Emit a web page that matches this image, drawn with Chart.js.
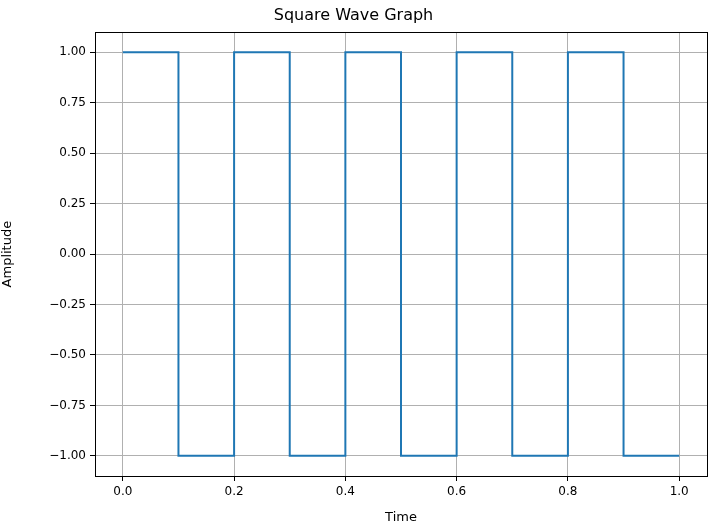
<!DOCTYPE html>
<html><head><meta charset="utf-8">
<script src="https://cdn.jsdelivr.net/npm/chart.js@4/dist/chart.umd.min.js"></script>
<style>html,body{margin:0;padding:0;background:#fff}</style>
</head><body>
<canvas id="c" width="715" height="525"></canvas>
<script>
const times = [0,0.1,0.2,0.3,0.4,0.5,0.6,0.7,0.8,0.9,1.0];
const amplitude = [1,1,-1,1,-1,1,-1,1,-1,1,-1];
const xTicks = [0,0.2,0.4,0.6,0.8,1.0];
const yTicks = [-1,-0.75,-0.5,-0.25,0,0.25,0.5,0.75,1];
const FONT = "'DejaVu Sans', sans-serif";

const frame = {
  id:'frame',
  afterDraw(ch){
    const a = ch.chartArea, c = ch.ctx;
    c.save(); c.strokeStyle='#000'; c.lineWidth=1;
    c.strokeRect(Math.round(a.left)+0.5, Math.round(a.top)+0.5, Math.round(a.right-a.left), Math.round(a.bottom-a.top));
    c.restore();
  }
};

new Chart(document.getElementById('c'), {
  type:'line',
  data:{datasets:[{
    data: times.map((t,i)=>({x:t,y:amplitude[i]})),
    stepped:'after', borderColor:'#1f77b4', borderWidth:2, pointRadius:0, fill:false
  }]},
  options:{
    responsive:false, animation:false,
    layout:{padding:{left:0,right:8,top:0,bottom:0}},
    plugins:{
      legend:{display:false}, tooltip:{enabled:false},
      title:{display:true,text:'Square Wave Graph',color:'#000',
        font:{family:FONT,size:16,weight:'normal'},padding:{top:6,bottom:7}}
    },
    scales:{
      x:{type:'linear',min:-0.05,max:1.05,
        afterBuildTicks(s){s.ticks=xTicks.map(v=>({value:v}));},
        afterFit(s){s.height=49;},
        ticks:{color:'#000',font:{family:FONT,size:12},maxRotation:0,padding:4,
          callback:v=>v.toFixed(1)},
        grid:{color:'#b0b0b0',tickLength:5,tickColor:'#000'},
        border:{color:'#000'},
        title:{display:true,text:'Time',color:'#000',font:{family:FONT,size:13},padding:{top:2,bottom:0}}
      },
      y:{type:'linear',min:-1.1,max:1.1,
        afterBuildTicks(s){s.ticks=yTicks.map(v=>({value:v}));},
        afterFit(s){s.width=95;},
        ticks:{color:'#000',font:{family:FONT,size:12},padding:4,
          callback:v=>(v<0?'\u2212':'')+Math.abs(v).toFixed(2)},
        grid:{color:'#b0b0b0',tickLength:5,tickColor:'#000'},
        border:{color:'#000'},
        title:{display:true,text:'Amplitude',color:'#000',font:{family:FONT,size:13},padding:{top:0,bottom:4}}
      }
    }
  },
  plugins:[frame]
});
</script>
</body></html>
